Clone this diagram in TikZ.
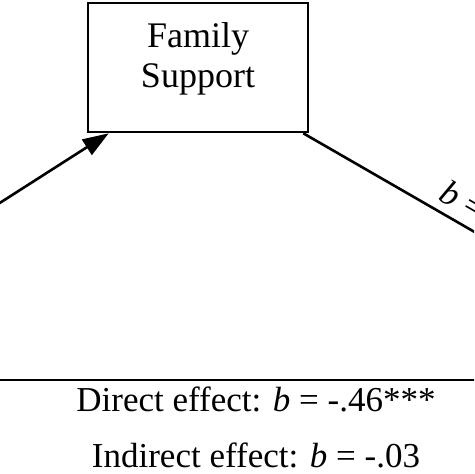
\documentclass[tikz,border=0pt]{standalone}
\usepackage{fontspec}
\setmainfont{Liberation Serif}
\usetikzlibrary{arrows.meta}
\begin{document}
\begin{tikzpicture}[x=0.5pt, y=-0.5pt, line width=1.3pt, node distance={28pt}, box/.style = {draw, rectangle, minimum width=110pt, minimum height=64.5pt, inner sep=0pt}, boxtxt/.style = {anchor=base, inner sep=0pt, font=\fontsize{18}{20}\selectfont}, eff/.style = {anchor=base, inner sep=0pt, font=\fontsize{17.5}{20}\selectfont}]
                \useasboundingbox (0,0) rectangle (474,474);
                \clip (0,0) rectangle (474,474);
                \node[box] (fam) at (198,67.5) {};
                \node[boxtxt] (fam1) at (198,48) {Family};
                \node[boxtxt] (fam2) at (198,88) {Support};
                \coordinate (lend) at (-30,222);
                \coordinate (atip) at ([xshift=11pt]fam.south west);
                \coordinate (rbeg) at ([xshift=-3pt]fam.south east);
                \coordinate (rend) at (502,247.8);
                \draw[-{Triangle[length=13pt, width=9pt]}] (lend) -- (atip);
                \draw (rbeg) -- node[pos=0.61, sloped, anchor=south west, inner sep=4pt, font=\fontsize{17.5}{20}\selectfont] (bl) {\textit{b} =} (rend);
                \coordinate (hl) at (-5,380);
                \coordinate (hr) at (479,380);
                \draw (hl) -- (hr);
                \node[eff] (dir) at (256,411) {Direct effect: \textit{b} = -.46***};
                \node[eff] (ind) [below of=dir] {Indirect effect: \textit{b} = -.03};
            \end{tikzpicture}
\end{document}
